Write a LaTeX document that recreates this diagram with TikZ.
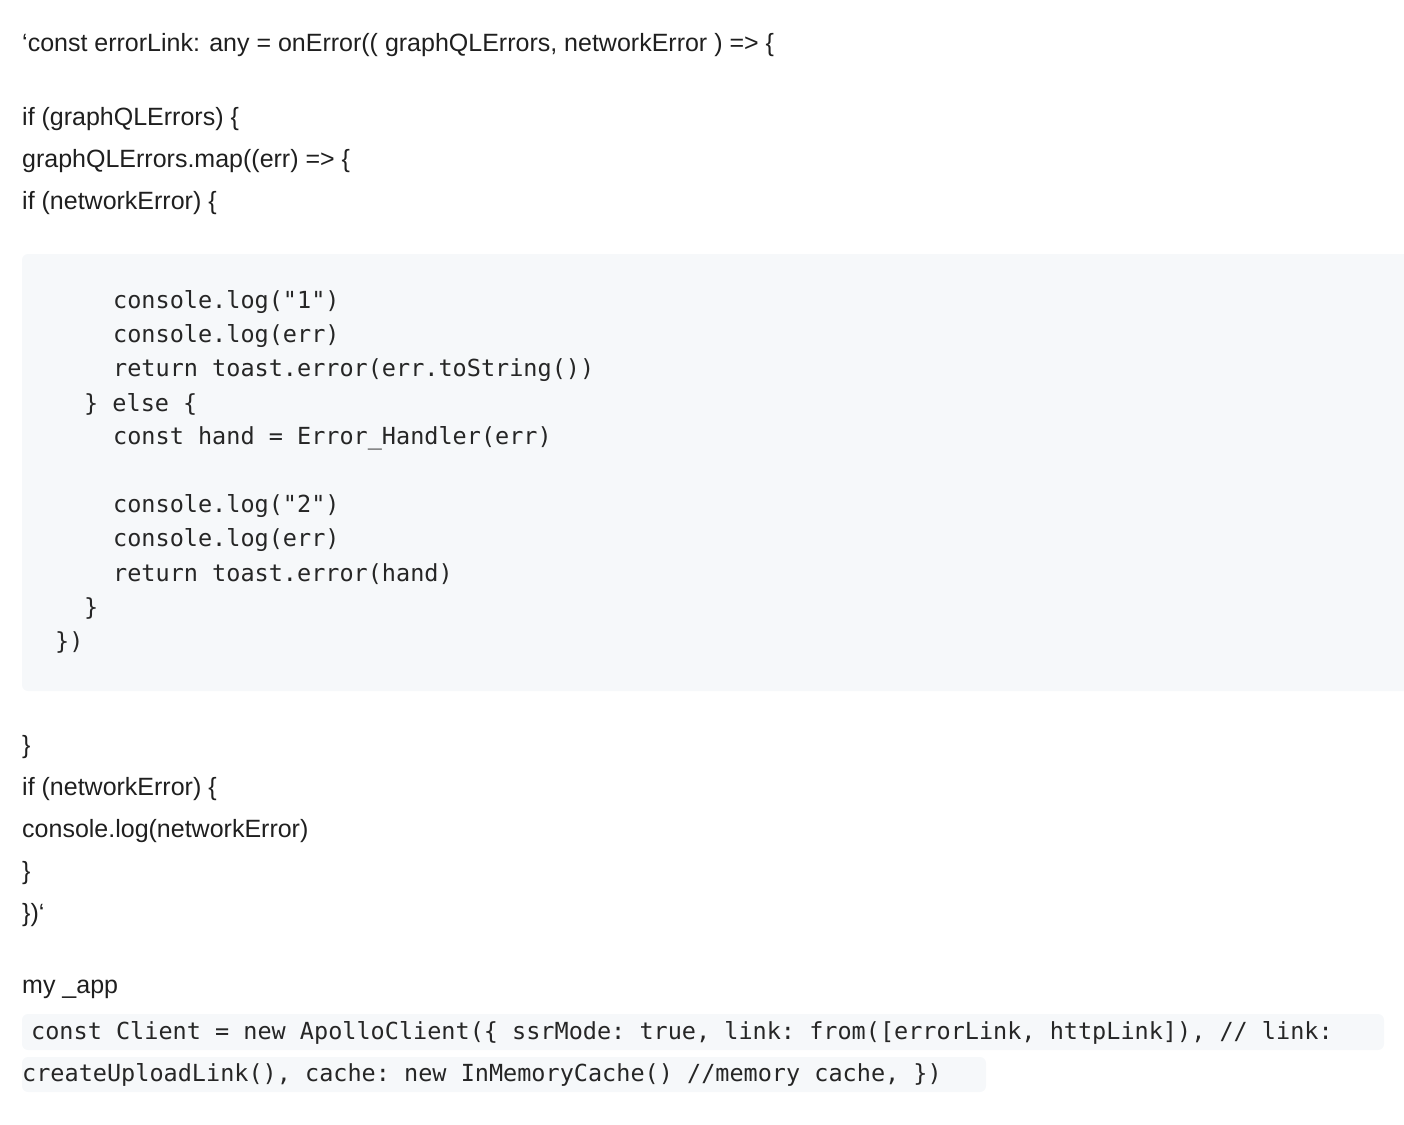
\documentclass[tikz,border=0pt]{standalone}
\usepackage{fontspec}
\setmainfont{Liberation Sans}
\setmonofont{DejaVu Sans Mono}
\begin{document}
\begin{tikzpicture}[x=1pt,y=-1pt,
  txt/.style={anchor=west,inner sep=0pt,font=\fontsize{25}{30}\selectfont,text=black!88},
  cod/.style={anchor=west,inner sep=0pt,font=\ttfamily\fontsize{23.5}{28}\selectfont,text=black!85}]
\definecolor{codebg}{HTML}{F6F8FA}
\useasboundingbox (0,0) rectangle (1404,1124);
\fill[codebg,rounded corners=6] (22,254) rectangle (1420,691);
\fill[codebg,rounded corners=6] (22,1014) rectangle (1384,1050);
\fill[codebg,rounded corners=6] (22,1057) rectangle (986,1092);
\node[txt] (l1) at (22,45) {`const errorLink: any = onError(({ graphQLErrors, networkError }) => \{};
\node[txt] (l2) at (22,119) {if (graphQLErrors) \{};
\node[txt] (l3) at (22,161) {graphQLErrors.map((err) => \{};
\node[txt] (l4) at (22,203) {if (networkError) \{};
\node[cod] (c1) at (113,302) {console.log("1")};
\node[cod] (c2) at (113,336) {console.log(err)};
\node[cod] (c3) at (113,370) {return toast.error(err.toString())};
\node[cod] (c4) at (84,404) {\} else \{};
\node[cod] (c5) at (113,438) {const hand = Error\_Handler(err)};
\node[cod] (c6) at (113,506) {console.log("2")};
\node[cod] (c7) at (113,540) {console.log(err)};
\node[cod] (c8) at (113,574) {return toast.error(hand)};
\node[cod] (c9) at (84,608) {\}};
\node[cod] (c10) at (55,642) {\})};
\node[txt] (l5) at (22,747) {\}};
\node[txt] (l6) at (22,789) {if (networkError) \{};
\node[txt] (l7) at (22,831) {console.log(networkError)};
\node[txt] (l8) at (22,873) {\}};
\node[txt] (l9) at (22,915) {\})`};
\node[txt] (l10) at (22,989) {my \_app};
\node[cod] (i1) at (31,1033) {const Client = new ApolloClient(\{ ssrMode: true, link: from([errorLink, httpLink]), // link:};
\node[cod] (i2) at (22,1075) {createUploadLink(), cache: new InMemoryCache() //memory cache, \})};
\end{tikzpicture}
\end{document}
